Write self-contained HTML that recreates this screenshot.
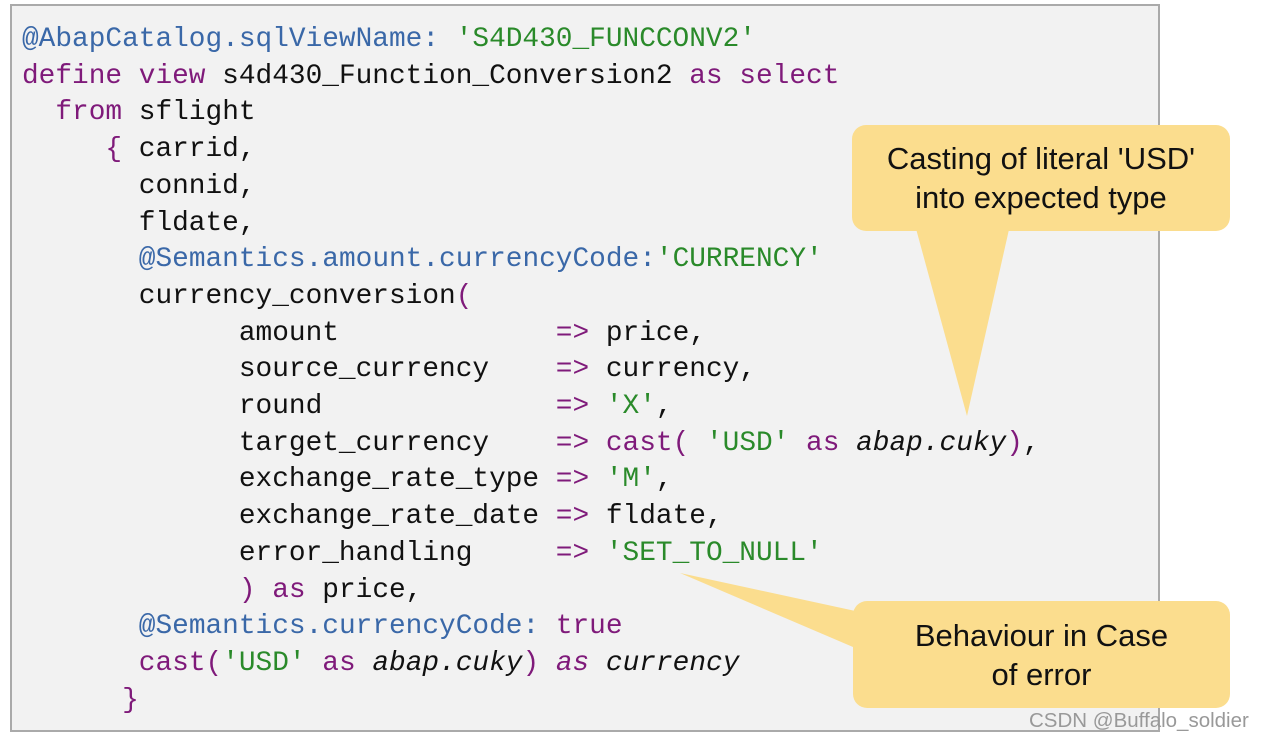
<!DOCTYPE html>
<html><head><meta charset="utf-8"><style>
body{margin:0;width:1273px;height:742px;background:#fff;position:relative;overflow:hidden}
.box{position:absolute;left:10px;top:4px;width:1146px;height:724px;background:#f2f2f2;border:2px solid #aaa}
pre{position:absolute;left:22px;top:22px;margin:0;font-family:"Liberation Mono",monospace;font-size:27.8px;line-height:36.7px;color:#111}
.a{color:#3a68a8}.k{color:#7f1a7a}.s{color:#2a8a2a}i{font-style:italic}
.c{position:absolute;background:#fbdd8e;border-radius:14px;font-family:"Liberation Sans",Arial,sans-serif;font-size:31px;line-height:39px;text-align:center;color:#111;display:flex;align-items:center;justify-content:center}
.wm{position:absolute;left:1029px;top:709px;font-family:"Liberation Sans",sans-serif;font-size:20.5px;color:#999}
</style></head><body>
<div class="box"></div>
<svg width="1273" height="742" style="position:absolute;left:0;top:0">
<polygon points="915,225 1010,225 967,416" fill="#fbdd8e"/>
<polygon points="860,612 860,650 680,573" fill="#fbdd8e"/>
</svg>
<div class="c" style="left:852px;top:125px;width:378px;height:106px">Casting of literal 'USD'<br>into expected type</div>
<div class="c" style="left:853px;top:601px;width:377px;height:107px">Behaviour in Case<br>of error</div>
<pre><span class="a">@AbapCatalog.sqlViewName: </span><span class="s">'S4D430_FUNCCONV2'</span>
<span class="k">define view</span> s4d430_Function_Conversion2 <span class="k">as select</span>
  <span class="k">from</span> sflight
     <span class="k">{</span> carrid,
       connid,
       fldate,
       <span class="a">@Semantics.amount.currencyCode:</span><span class="s">'CURRENCY'</span>
       currency_conversion<span class="k">(</span>
             amount             <span class="k">=&gt;</span> price,
             source_currency    <span class="k">=&gt;</span> currency,
             round              <span class="k">=&gt;</span> <span class="s">'X'</span>,
             target_currency    <span class="k">=&gt;</span> <span class="k">cast(</span> <span class="s">'USD'</span> <span class="k">as</span> <i>abap.cuky</i><span class="k">)</span>,
             exchange_rate_type <span class="k">=&gt;</span> <span class="s">'M'</span>,
             exchange_rate_date <span class="k">=&gt;</span> fldate,
             error_handling     <span class="k">=&gt;</span> <span class="s">'SET_TO_NULL'</span>
             <span class="k">) as</span> price,
       <span class="a">@Semantics.currencyCode: </span><span class="k">true</span>
       <span class="k">cast(</span><span class="s">'USD'</span> <span class="k">as</span> <i>abap.cuky</i><span class="k">)</span> <i class="k">as</i> <i>currency</i>
      <span class="k">}</span></pre>
<div class="wm">CSDN @Buffalo_soldier</div>
</body></html>
